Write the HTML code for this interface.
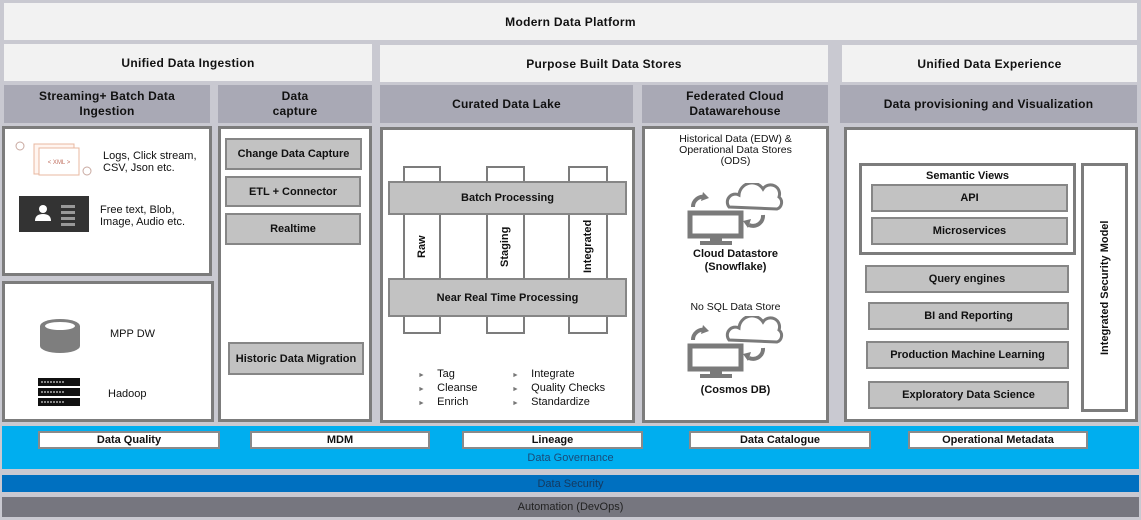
<!DOCTYPE html>
<html><head><meta charset="utf-8"><style>
*{margin:0;padding:0;box-sizing:border-box}
body{width:1141px;height:520px;background:#c9c9d1;position:relative;overflow:hidden;font-family:"Liberation Sans",sans-serif;color:#111}
.a{position:absolute}
.h{background:#f2f2f2;display:flex;align-items:center;justify-content:center;font-weight:bold;font-size:12px;letter-spacing:.3px;text-align:center}
.s{background:#a9a9b5;display:flex;align-items:center;justify-content:center;font-weight:bold;font-size:12px;text-align:center;line-height:15px;letter-spacing:.2px}
.c{background:#fff;border:3px solid #7c7c7c}
.b{background:#c2c2c2;border:2px solid #868686;display:flex;align-items:center;justify-content:center;font-weight:bold;font-size:11px}
.w{background:#fff;border:2px solid #8a8a8a;display:flex;align-items:center;justify-content:center;font-weight:bold;font-size:11px}
.t{font-size:11px;line-height:12px}
.bar{display:flex;align-items:center;justify-content:center;font-size:11px}
.v{writing-mode:vertical-rl;transform:rotate(180deg);font-weight:bold;font-size:11px;display:flex;align-items:center;justify-content:center}
</style></head><body>
<div class="a h" style="left:4px;top:3px;width:1133px;height:37px">Modern Data Platform</div>
<div class="a h" style="left:4px;top:44px;width:368px;height:37px">Unified Data Ingestion</div>
<div class="a h" style="left:380px;top:45px;width:448px;height:37px">Purpose Built Data Stores</div>
<div class="a h" style="left:842px;top:45px;width:295px;height:37px">Unified Data Experience</div>
<div class="a s" style="left:4px;top:85px;width:206px;height:38px">Streaming+ Batch Data<br>Ingestion</div>
<div class="a s" style="left:218px;top:85px;width:154px;height:38px">Data<br>capture</div>
<div class="a s" style="left:380px;top:85px;width:253px;height:38px">Curated Data Lake</div>
<div class="a s" style="left:642px;top:85px;width:186px;height:38px">Federated Cloud<br>Datawarehouse</div>
<div class="a s" style="left:840px;top:85px;width:297px;height:38px">Data provisioning and Visualization</div>

<!-- streaming -->
<div class="a c" style="left:2px;top:126px;width:210px;height:150px"></div>
<div class="a c" style="left:2px;top:281px;width:212px;height:141px"></div>
<svg class="a" style="left:12px;top:140px" width="85" height="40">
<circle cx="8" cy="6" r="4" fill="none" stroke="#c9a9a0" stroke-width="1"/>
<rect x="22" y="4" width="40" height="30" fill="#fff5f0" stroke="#e8b8a0"/>
<rect x="27" y="8" width="40" height="27" fill="#fff" stroke="#e8b8a0"/>
<text x="47" y="24" font-size="6" fill="#c07060" text-anchor="middle" font-family="Liberation Sans">&lt; XML &gt;</text>
<circle cx="75" cy="31" r="4" fill="none" stroke="#c9a9a0" stroke-width="1"/>
</svg>
<div class="a t" style="left:103px;top:150px">Logs, Click stream,<br>CSV, Json etc.</div>
<svg class="a" style="left:19px;top:196px" width="70" height="36">
<rect width="70" height="36" fill="#333"/>
<circle cx="24" cy="13" r="4" fill="#fff"/><path d="M16 25 q0-7 8-7 q8 0 8 7z" fill="#fff"/>
<g fill="#999"><rect x="42" y="9" width="14" height="3"/><rect x="42" y="15" width="14" height="3"/><rect x="42" y="21" width="14" height="3"/><rect x="42" y="27" width="14" height="3"/></g>
</svg>
<div class="a t" style="left:100px;top:204px">Free text, Blob,<br>Image, Audio etc.</div>
<svg class="a" style="left:38px;top:318px" width="44" height="36">
<path d="M2 8 v20 a20 7 0 0 0 40 0 v-20z" fill="#7e7e7e"/>
<ellipse cx="22" cy="8" rx="20" ry="7" fill="#7e7e7e"/><ellipse cx="22" cy="8" rx="15" ry="4" fill="#fff"/>
</svg>
<div class="a t" style="left:110px;top:328px">MPP DW</div>
<svg class="a" style="left:38px;top:378px" width="42" height="28">
<rect y="0" width="42" height="8" fill="#111"/><rect y="10" width="42" height="8" fill="#111"/><rect y="20" width="42" height="8" fill="#111"/>
<g stroke="#fff" stroke-width="1" stroke-dasharray="2 1"><line x1="3" y1="4" x2="26" y2="4"/><line x1="3" y1="14" x2="26" y2="14"/><line x1="3" y1="24" x2="26" y2="24"/></g>
</svg>
<div class="a t" style="left:108px;top:388px">Hadoop</div>

<!-- capture -->
<div class="a c" style="left:218px;top:126px;width:154px;height:296px"></div>
<div class="a b" style="left:225px;top:138px;width:137px;height:32px">Change Data Capture</div>
<div class="a b" style="left:225px;top:176px;width:136px;height:31px">ETL + Connector</div>
<div class="a b" style="left:225px;top:213px;width:136px;height:32px">Realtime</div>
<div class="a b" style="left:228px;top:342px;width:136px;height:33px">Historic Data Migration</div>

<!-- curated -->
<div class="a c" style="left:380px;top:127px;width:255px;height:296px"></div>
<div class="a" style="left:403px;top:166px;width:38px;height:168px;border:2px solid #7c7c7c;background:#fff"></div>
<div class="a" style="left:486px;top:166px;width:39px;height:168px;border:2px solid #7c7c7c;background:#fff"></div>
<div class="a" style="left:568px;top:166px;width:40px;height:168px;border:2px solid #7c7c7c;background:#fff"></div>
<div class="a v" style="left:414px;top:216px;width:16px;height:62px">Raw</div>
<div class="a v" style="left:497px;top:216px;width:16px;height:62px">Staging</div>
<div class="a v" style="left:580px;top:214px;width:16px;height:64px">Integrated</div>
<div class="a b" style="left:388px;top:181px;width:239px;height:34px">Batch Processing</div>
<div class="a b" style="left:388px;top:278px;width:239px;height:39px">Near Real Time Processing</div>
<div class="a t" style="left:418px;top:368px;line-height:13px;font-size:11px"><span style="font-size:7px;color:#777">&#9658;</span>&nbsp;&nbsp;&nbsp;&nbsp;Tag<br><span style="font-size:7px;color:#777">&#9658;</span>&nbsp;&nbsp;&nbsp;&nbsp;Cleanse<br><span style="font-size:7px;color:#777">&#9658;</span>&nbsp;&nbsp;&nbsp;&nbsp;Enrich</div>
<div class="a t" style="left:512px;top:368px;line-height:13px;font-size:11px"><span style="font-size:7px;color:#777">&#9658;</span>&nbsp;&nbsp;&nbsp;&nbsp;Integrate<br><span style="font-size:7px;color:#777">&#9658;</span>&nbsp;&nbsp;&nbsp;&nbsp;Quality Checks<br><span style="font-size:7px;color:#777">&#9658;</span>&nbsp;&nbsp;&nbsp;&nbsp;Standardize</div>

<!-- federated -->
<div class="a c" style="left:642px;top:126px;width:187px;height:297px"></div>
<div class="a t" style="left:642px;top:134px;width:187px;text-align:center;font-size:10.5px;line-height:11px">Historical Data (EDW) &amp;<br>Operational Data Stores<br>(ODS)</div>
<svg class="a" style="left:685px;top:183px" width="102" height="64" id="ic">
<g fill="none" stroke="#7a7a7a" stroke-width="4">
<rect x="5" y="30" width="51" height="23" stroke-width="5"/>
<path d="M44 24 a8 8 0 0 1 10 -12 a13 13 0 0 1 24 -6 a9 9 0 0 1 16 8 a7 7 0 0 1 -2 12z" stroke-width="3"/>
<path d="M8 24 a10 10 0 0 1 12 -10"/><path d="M78 32 a10 10 0 0 1 -14 10"/>
</g>
<rect x="25" y="54" width="12" height="5" fill="#7a7a7a"/><rect x="15" y="58" width="32" height="4" fill="#7a7a7a"/>
<path d="M18 9 l6 6 l-8 3z" fill="#7a7a7a"/><path d="M58 38 l8 -2 l-3 9z" fill="#7a7a7a"/>
</svg>
<div class="a" style="left:642px;top:248px;width:187px;text-align:center;font-weight:bold;font-size:11px;line-height:13px">Cloud Datastore<br>(Snowflake)</div>
<div class="a t" style="left:642px;top:301px;width:187px;text-align:center;font-size:10.5px">No SQL Data Store</div>
<svg class="a" style="left:685px;top:316px" width="102" height="64">
<g fill="none" stroke="#7a7a7a" stroke-width="4">
<rect x="5" y="30" width="51" height="23" stroke-width="5"/>
<path d="M44 24 a8 8 0 0 1 10 -12 a13 13 0 0 1 24 -6 a9 9 0 0 1 16 8 a7 7 0 0 1 -2 12z" stroke-width="3"/>
<path d="M8 24 a10 10 0 0 1 12 -10"/><path d="M78 32 a10 10 0 0 1 -14 10"/>
</g>
<rect x="25" y="54" width="12" height="5" fill="#7a7a7a"/><rect x="15" y="58" width="32" height="4" fill="#7a7a7a"/>
<path d="M18 9 l6 6 l-8 3z" fill="#7a7a7a"/><path d="M58 38 l8 -2 l-3 9z" fill="#7a7a7a"/>
</svg>
<div class="a" style="left:642px;top:384px;width:187px;text-align:center;font-weight:bold;font-size:11px">(Cosmos DB)</div>

<!-- experience -->
<div class="a c" style="left:844px;top:127px;width:294px;height:295px"></div>
<div class="a" style="left:859px;top:163px;width:217px;height:92px;border:3px solid #7c7c7c;background:#fff"></div>
<div class="a" style="left:859px;top:170px;width:217px;text-align:center;font-weight:bold;font-size:11px">Semantic Views</div>
<div class="a b" style="left:871px;top:184px;width:197px;height:28px">API</div>
<div class="a b" style="left:871px;top:217px;width:197px;height:28px">Microservices</div>
<div class="a b" style="left:865px;top:265px;width:204px;height:28px">Query engines</div>
<div class="a b" style="left:868px;top:302px;width:201px;height:28px">BI and Reporting</div>
<div class="a b" style="left:866px;top:341px;width:203px;height:28px">Production Machine Learning</div>
<div class="a b" style="left:868px;top:381px;width:201px;height:28px">Exploratory Data Science</div>
<div class="a" style="left:1081px;top:163px;width:47px;height:249px;border:3px solid #7c7c7c;background:#fff"></div>
<div class="a v" style="left:1096px;top:200px;width:18px;height:175px">Integrated Security Model</div>

<!-- bottom -->
<div class="a" style="left:2px;top:426px;width:1137px;height:43px;background:#00aeef"></div>
<div class="a w" style="left:38px;top:431px;width:182px;height:18px">Data Quality</div>
<div class="a w" style="left:250px;top:431px;width:180px;height:18px">MDM</div>
<div class="a w" style="left:462px;top:431px;width:181px;height:18px">Lineage</div>
<div class="a w" style="left:689px;top:431px;width:182px;height:18px">Data Catalogue</div>
<div class="a w" style="left:908px;top:431px;width:180px;height:18px">Operational Metadata</div>
<div class="a" style="left:2px;top:452px;width:1137px;text-align:center;font-size:11px;color:#1a4a78">Data Governance</div>
<div class="a bar" style="left:2px;top:475px;width:1137px;height:17px;background:#0070c0;color:#143a60">Data Security</div>
<div class="a bar" style="left:2px;top:497px;width:1137px;height:20px;background:#76767f;color:#222">Automation (DevOps)</div>
</body></html>
